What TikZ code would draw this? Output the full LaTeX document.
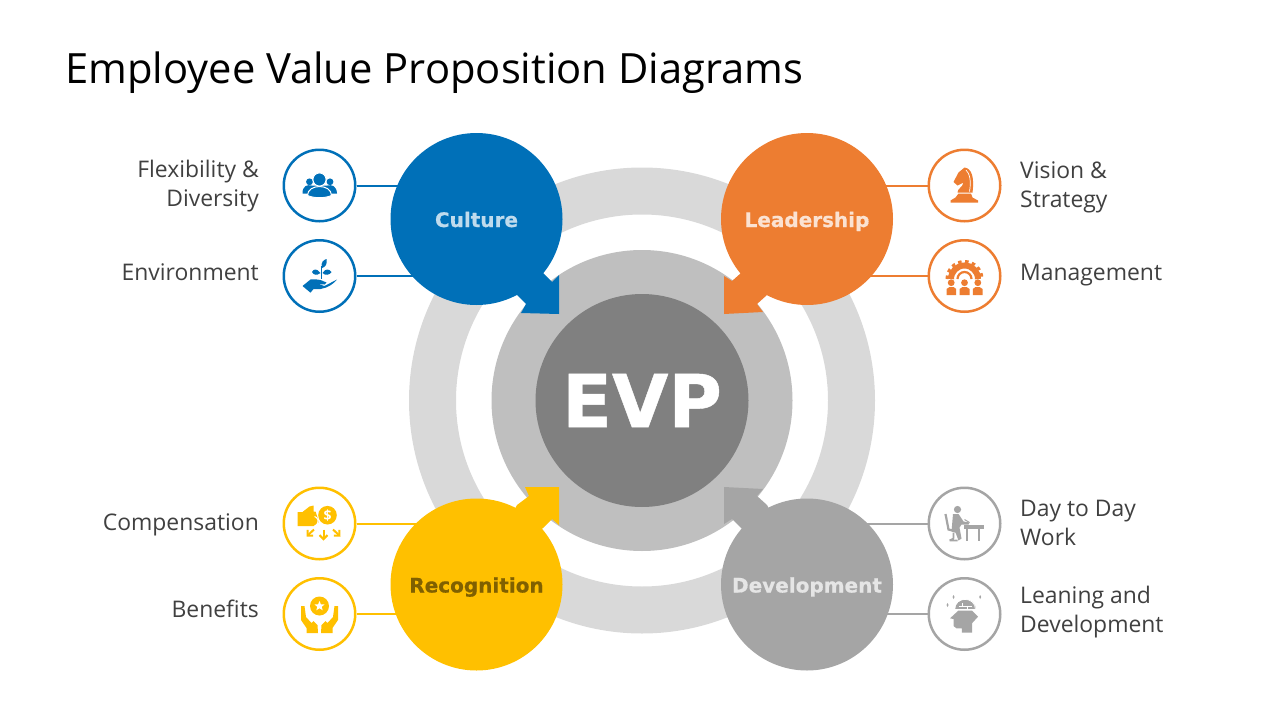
\documentclass[tikz,border=0pt]{standalone}
\usepackage{fontspec}
\setmainfont{Open Sans}
\newfontfamily\heavyfont[FakeBold=0.6]{DejaVu Sans Bold}
\usetikzlibrary{arrows.meta}
\definecolor{CultureBlue}{HTML}{0070B8}
\definecolor{LeadOrange}{HTML}{ED7D31}
\definecolor{RecogGold}{HTML}{FFC000}
\definecolor{DevGray}{HTML}{A5A5A5}
\definecolor{LabelGray}{HTML}{404040}
\tikzset{
  hub/.style={circle,fill=#1,inner sep=0pt,outer sep=0pt},
  petal/.style={hub=#1,minimum size=172pt,text height=16pt,text depth=0pt,font=\heavyfont\fontsize{20}{24}\selectfont},
  iconring/.style={circle,draw=#1,fill=white,line width=2.5pt,minimum size=71.5pt,inner sep=0pt},
  leaf/.style={draw=#1,line width=2pt},
  sidelabel/.style={text=LabelGray,font=\fontsize{22.9}{29}\selectfont,inner sep=0pt}
}
\begin{document}
\begin{tikzpicture}[x=1pt,y=-1pt]
\useasboundingbox (0,0) rectangle (1280,720);
\node[anchor=base west,inner sep=0pt,font=\fontsize{41.7}{48}\selectfont] (title) at (65,83) {Employee Value Proposition Diagrams};
% rings in the middle
\node[circle,draw=black!15,line width=47pt,minimum size=419pt,inner sep=0pt] (ring) at (642,400.5) {};
\node[hub=black!25,minimum size=301pt] (disc) at (642,400.5) {};
\node[hub=black!50,minimum size=213pt,text=white,font=\heavyfont\fontsize{73}{80}\selectfont] (evp) at (642,400.5) {EVP};
% arrow shapes
\fill[CultureBlue] (476.5,219)--(543,273)--(552,282)--(559,275)--(559,314)--(521,313)--(526,304)--(517,295)--cycle;
\fill[LeadOrange] (807,219)--(741,273)--(732,281)--(724,276)--(724,314)--(763,312)--(757,304)--(767,295)--cycle;
\fill[RecogGold] (476.5,584.5)--(543,528)--(552,519)--(559,525)--(559,487)--(525,487)--(529,496)--(517,505)--cycle;
\fill[DevGray] (807,584.5)--(741,528)--(732,519)--(724,524)--(724,487)--(763,489)--(757,496)--(767,505)--cycle;
% small circles
\node[iconring=CultureBlue] (flex) at (319.5,185.5) {};
\node[iconring=CultureBlue] (environ) at (319.5,276) {};
\node[iconring=LeadOrange] (vision) at (964.5,185.5) {};
\node[iconring=LeadOrange] (manage) at (964.5,276) {};
\node[iconring=RecogGold] (compens) at (319.5,523.5) {};
\node[iconring=RecogGold] (benefit) at (319.5,614) {};
\node[iconring=DevGray] (daywork) at (964.5,523.5) {};
\node[iconring=DevGray] (leaning) at (964.5,614) {};
% big circles
\node[petal=CultureBlue,text=CultureBlue!25!white] (culture) at (476.5,219) {Culture};
\node[petal=LeadOrange,text=LeadOrange!22!white] (leadership) at (807,219) {Leadership};
\node[petal=RecogGold,text=RecogGold!50!black] (recognition) at (476.5,584.5) {Recognition};
\node[petal=DevGray,text=white!90!black] (development) at (807,584.5) {Development};
% connectors
\draw[leaf=CultureBlue] (flex.east) -- (flex.east -| culture.center);
\draw[leaf=CultureBlue] (environ.east) -- (environ.east -| culture.center);
\draw[leaf=LeadOrange] (vision.west) -- (vision.west -| leadership.center);
\draw[leaf=LeadOrange] (manage.west) -- (manage.west -| leadership.center);
\draw[leaf=RecogGold] (compens.east) -- (compens.east -| recognition.center);
\draw[leaf=RecogGold] (benefit.east) -- (benefit.east -| recognition.center);
\draw[leaf=DevGray] (daywork.west) -- (daywork.west -| development.center);
\draw[leaf=DevGray] (leaning.west) -- (leaning.west -| development.center);
% labels
\node[sidelabel,anchor=east,align=right] (flexlabel) at (259,186.5) {Flexibility \&\\Diversity};
\node[sidelabel,anchor=east,align=right] (envlabel) at (259,272) {Environment};
\node[sidelabel,anchor=east,align=right] (complabel) at (259,525) {Compensation};
\node[sidelabel,anchor=east,align=right] (benlabel) at (259,609) {Benefits};
\node[sidelabel,anchor=west,align=left] (vislabel) at (1020,187.5) {Vision \&\\Strategy};
\node[sidelabel,anchor=west,align=left] (manlabel) at (1020,275) {Management};
\node[sidelabel,anchor=west,align=left] (daylabel) at (1020,522.5) {Day to Day\\Work};
\node[sidelabel,anchor=west,align=left] (leanlabel) at (1020,612.5) {Leaning and\\Development};
% people icon
\begin{scope}[shift={(319.5,185.5)}]
\fill[CultureBlue] (-10,-3.7) circle (3.4) (10.5,-3.7) circle (3.4);
\fill[CultureBlue] (-17,8) .. controls (-17,0) and (-12,-1) .. (-8,0) -- (8,0) .. controls (12,-1) and (17,0) .. (17.5,8) -- (10,8) -- (-10,8) -- cycle;
\filldraw[CultureBlue,draw=white,line width=1pt] (0,-6) circle (6.6);
\filldraw[CultureBlue,draw=white,line width=1pt] (-12,10) .. controls (-12,-2) and (12,-2) .. (12,10) .. controls (5,13) and (-5,13) .. (-12,10) -- cycle;
\end{scope}
% plant and hand icon
\begin{scope}[shift={(319.5,276)}]
\fill[CultureBlue] (-17,10) -- (-9,3.5) .. controls (-5,3) and (-2,3.5) .. (1,4) -- (7,6.5) -- (5,8.5) -- (-1,8) -- (5,10) -- (17.5,3.5) .. controls (14,8) and (8,12) .. (1,13) -- (-6,13) -- (-9,16.7) -- cycle;
\draw[CultureBlue,line width=1.2pt] (2,-10) -- (2,3);
\fill[CultureBlue] (2.5,-8) .. controls (1,-14) and (4,-16) .. (7,-17) .. controls (8,-12) and (6,-9) .. (2.5,-8) -- cycle;
\fill[CultureBlue] (1,-3) .. controls (-3,-8) and (-6,-7) .. (-7.5,-4) .. controls (-6,-1) and (-3,0) .. (1,-3) -- cycle;
\fill[CultureBlue] (3,-3) .. controls (6,-8) and (10,-7) .. (12,-4) .. controls (10,-1) and (6,0) .. (3,-3) -- cycle;
\end{scope}
% knight icon
\begin{scope}[shift={(964.5,185.5)}]
\fill[LeadOrange] (-14,17) -- (13.5,17) -- (13.5,15) -- (8,12) -- (6.5,8) -- (-6,8) -- (-9,12) -- (-14,15) -- cycle;
\fill[LeadOrange] (-7,7) .. controls (-7,3) and (-2,2) .. (-1,-3) -- (-7,0) -- (-11,-3.5) -- (-6,-13) -- (0,-18) .. controls (7,-17) and (10,-9) .. (8,7) -- cycle;
\draw[white,line width=.7pt] (1.5,-15.5) .. controls (5,-12) and (7,-5) .. (5,6);
\end{scope}
% gear and people icon
\begin{scope}[shift={(964.5,276)}]
\draw[LeadOrange,line width=3pt,dash pattern=on 3.5pt off 3.5pt] (-17.5,3) arc[start angle=180,end angle=360,radius=17.5];
\draw[LeadOrange,line width=6pt] (-13.5,3) arc[start angle=180,end angle=360,radius=13.5];
\draw[LeadOrange,line width=2.2pt] (-7,3) arc[start angle=180,end angle=360,radius=7];
\fill[LeadOrange] (-13.3,6.7) circle (3.4) (0,6.7) circle (3.4) (13.3,6.7) circle (3.4);
\fill[LeadOrange] (-18,19) -- (-18,13) -- (-15,11) -- (-11,11) -- (-8.3,13) -- (-8.3,19) -- cycle;
\fill[LeadOrange] (-5,19) -- (-5,13) -- (-2,11) -- (2,11) -- (5,13) -- (5,19) -- cycle;
\fill[LeadOrange] (8.3,19) -- (8.3,13) -- (11,11) -- (15,11) -- (18,13) -- (18,19) -- cycle;
\end{scope}
% money and hand icon
\begin{scope}[shift={(319.5,523.5)}]
\fill[RecogGold] (-22,-11.5) -- (-17,-11.5) -- (-10,-17) -- (-6,-18) -- (-6,-12) -- (-4,-12) -- (-2,-6) -- (-1,-1) -- (-6,2.5) -- (-22,2.5) -- cycle;
\fill[RecogGold] (8,-8.3) circle (9.3);
\draw[white,line width=1pt] (-5,-7) .. controls (-2,-6) and (0,-3) .. (-3,2);
\node[text=white,inner sep=0pt,font=\bfseries\fontsize{14}{14}\selectfont] (dollar) at (8,-8.3) {\$};
\draw[RecogGold,line width=2pt,-{Straight Barb[length=4pt,width=8pt]}] (-5.5,6) -- (-13,13);
\draw[RecogGold,line width=2pt,-{Straight Barb[length=4pt,width=8pt]}] (4,6) -- (4,17);
\draw[RecogGold,line width=2pt,-{Straight Barb[length=4pt,width=8pt]}] (13.5,6) -- (21,13);
\end{scope}
% star and hands icon
\begin{scope}[shift={(319.5,614)}]
\fill[RecogGold] (0,-8) circle (9.5);
\fill[white] (0,-13) -- (1.4,-9.6) -- (5,-9.5) -- (2.2,-7.2) -- (3.2,-3.7) -- (0,-5.7) -- (-3.2,-3.7) -- (-2.2,-7.2) -- (-5,-9.5) -- (-1.4,-9.6) -- cycle;
\fill[RecogGold] (-18.5,-8) -- (-15,-8) -- (-13.5,3) -- (-8,9) -- (-6,7) -- (-2,11) -- (-1.5,19) -- (-13,19) -- (-13,14) -- (-18.5,6) -- cycle;
\fill[RecogGold] (18.5,-8) -- (15,-8) -- (13.5,3) -- (8,9) -- (6,7) -- (2,11) -- (1.5,19) -- (13,19) -- (13,14) -- (18.5,6) -- cycle;
\end{scope}
% desk icon
\begin{scope}[shift={(964.5,523.5)}]
\fill[DevGray] (-7,-14) circle (3.6);
\fill[DevGray] (-11.5,-9.5) -- (-6,-9.5) -- (-1,-2) -- (5,-1) -- (4,1) -- (-3,1) -- (-5,4) -- (-3,15) -- (-6,17) -- (-9,9) -- (-13,8) -- cycle;
\draw[DevGray,line width=2.2pt] (-19,-9.5) -- (-16,6) -- (-8,8);
\draw[DevGray,line width=1.6pt] (-11,9) -- (-11,15) (-15,17) -- (-7,17) (-11,15) -- (-15,17);
\fill[DevGray] (-1,1.5) -- (19.5,1.5) -- (19.5,5) -- (-1,5) -- cycle;
\draw[DevGray,line width=1.4pt] (2.5,5) -- (2.5,17.5) (14.5,5) -- (14.5,17.5);
\draw[DevGray,line width=1pt] (0,-4) -- (5,-1);
\end{scope}
% head icon
\begin{scope}[shift={(964.5,614)}]
\fill[DevGray] (-6,-3.5) -- (-14.5,4.3) -- (-11,5) -- (-11,12) -- (-8,14.3) -- (-2.7,14.3) -- (-2.7,18.7) -- (7.5,18.7) -- (7.5,9.3) -- (13.5,2.7) -- (7.5,-3.5) -- cycle;
\filldraw[fill=DevGray,draw=white,line width=.7pt] (-10,-4.5) .. controls (-10,-18) and (11,-18) .. (11,-4.5) -- cycle;
\draw[white,line width=.8pt] (-6,-8) -- (7,-8) (-2,-11) -- (-2,-8) (3,-8) -- (3,-5);
\fill[DevGray] (-11,-19) -- (-10,-17) -- (-11,-15) -- (-12,-17) -- cycle;
\fill[DevGray] (15.7,-19) -- (16.7,-17) -- (15.7,-15) -- (14.7,-17) -- cycle;
\fill[DevGray] (-17,-11) -- (-16,-9) -- (-17,-7) -- (-18,-9) -- cycle;
\end{scope}
\end{tikzpicture}
\end{document}
